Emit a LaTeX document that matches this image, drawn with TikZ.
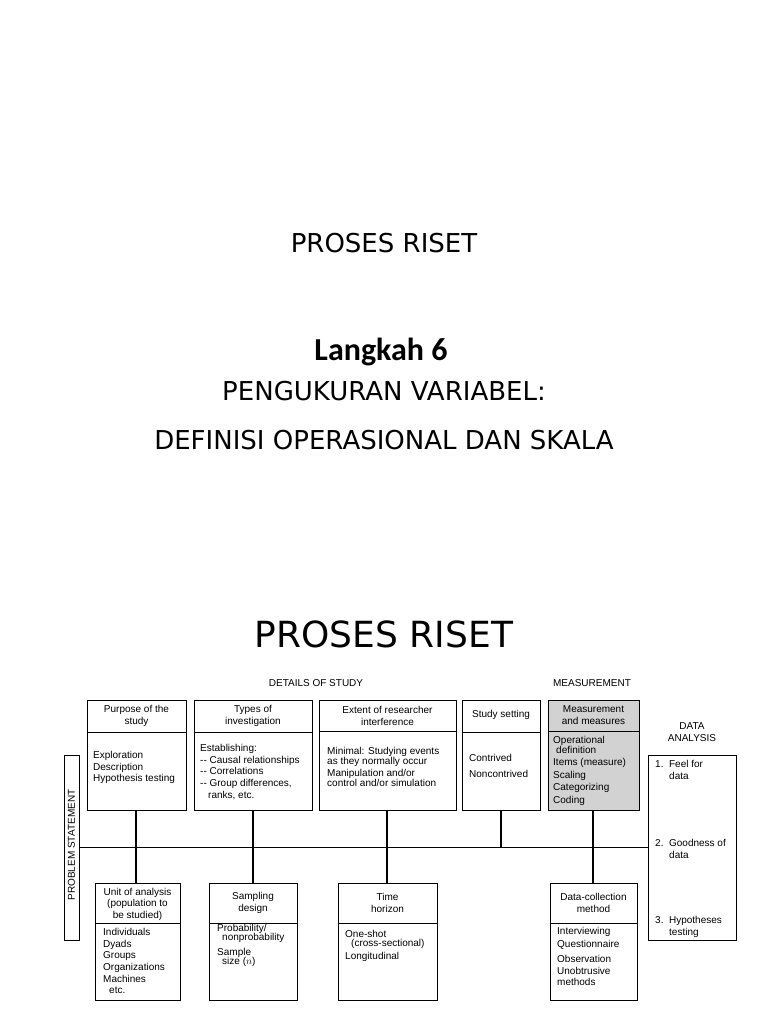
\documentclass[tikz,border=0pt]{standalone}
\usepackage{fontspec}
\setmainfont{DejaVu Sans}
\newfontfamily\diag{Liberation Sans}
\newfontfamily\carlitofont{Carlito}
\begin{document}
\begin{tikzpicture}[x=1pt,y=-1pt,
  bx/.style={draw,line width=0.8pt},
  lbl/.style={font=\diag\fontsize{10}{11.5}\selectfont,align=center,inner sep=0},
  txt/.style={font=\diag\fontsize{10}{11.7}\selectfont,align=left,anchor=north west,inner sep=0},
  one/.style={font=\diag\fontsize{10}{11}\selectfont,anchor=west,inner sep=0},
  conn/.style={line width=1.8pt},
  ttl/.style={inner sep=0}]
\useasboundingbox (0,0) rectangle (768,1024);
\node[ttl,font=\fontsize{26}{30}\selectfont] (t1) at (384,243) {PROSES RISET};
\node[ttl,font=\carlitofont\bfseries\fontsize{32}{36}\selectfont] (t2) at (381,352) {Langkah 6};
\node[ttl,font=\fontsize{26}{30}\selectfont] (t3) at (384,391) {PENGUKURAN VARIABEL:};
\node[ttl,font=\fontsize{26}{30}\selectfont] (t4) at (384,440) {DEFINISI OPERASIONAL DAN SKALA};
\node[ttl,font=\fontsize{36}{42}\selectfont] (t5) at (384,634) {PROSES RISET};
\node[lbl] (ds) at (316,683) {DETAILS OF STUDY};
\node[lbl] (ms) at (592,683) {MEASUREMENT};
\node[lbl,font=\diag\fontsize{10}{12.5}\selectfont] (da) at (692,732) {DATA\\ANALYSIS};
% main line
\coordinate (L) at (79,847);
\coordinate (R) at (648,847);
\draw[line width=1pt] (L) -- (R);
% top boxes
\fill[gray!35] (548,700) rectangle (639,810);
\foreach \a/\b/\d in {87/186/732,194/312/732,319/456/731,462/540/732,548/639/731}{
  \draw[bx] (\a,700) rectangle (\b,810); \draw[bx] (\a,\d) -- (\b,\d);}
\foreach \a/\b in {95/180,209/297,338/437,550/637}{
  \draw[bx] (\a,883) rectangle (\b,1000); \draw[bx] (\a,923) -- (\b,923);}
\draw[bx] (64,755) rectangle (79,940);
\draw[bx] (648,755) rectangle (736,940);
\node[lbl,rotate=90,font=\diag\fontsize{10}{11}\selectfont] (ps) at (71.5,845) {PROBLEM STATEMENT};
% connectors
\foreach \x in {136,253,387,593}{\draw[conn] (\x,810) -- (\x,883);}
\draw[conn] (501,810) -- (501,847);
% headers
\node[lbl] (h1) at (136.5,716) {Purpose of the\\study};
\node[lbl] (h2) at (253,716) {Types of\\investigation};
\node[lbl] (h3) at (387.5,716) {Extent of researcher\\interference};
\node[lbl] (h4) at (501,715) {Study setting};
\node[lbl] (h5) at (593.5,715) {Measurement\\and measures};
\node[lbl] (h6) at (137.5,904) {Unit of analysis\\(population to\\be studied)};
\node[lbl] (h7) at (253,903) {Sampling\\design};
\node[lbl] (h8) at (387.5,903) {Time\\horizon};
\node[lbl] (h9) at (593.5,903) {Data-collection\\method};
% bodies
\node[txt] (b1) at (93,751) {Exploration\\Description\\Hypothesis testing};
\node[txt] (b2) at (200,744) {Establishing:\\-- Causal relationships\\-- Correlations\\-- Group differences,\\\hspace*{8pt}ranks, etc.};
\node[txt,font=\diag\fontsize{10}{10}\selectfont] (b3) at (327,747) {Minimal: Studying events\\as they normally occur\\[2.5pt]Manipulation and/or\\control and/or simulation};
\node[txt,font=\diag\fontsize{10}{16}\selectfont] (b4) at (469,754) {Contrived\\Noncontrived};
\node[one] (m1) at (553,741) {Operational};
\node[one] (m2) at (556,750) {definition};
\node[one] (m3) at (553,763) {Items (measure)};
\node[one] (m4) at (553,776) {Scaling};
\node[one] (m5) at (553,788) {Categorizing};
\node[one] (m6) at (553,801) {Coding};
\node[txt] (b6) at (103,928) {Individuals\\Dyads\\Groups\\Organizations\\Machines\\\hspace*{6pt}etc.};
\node[txt,font=\diag\fontsize{10}{9.5}\selectfont] (b7) at (217,924) {Probability/\\\hspace*{5pt}nonprobability\\[5pt]Sample\\\hspace*{5pt}size ($n$)};
\node[txt,font=\diag\fontsize{10}{9.5}\selectfont] (b8) at (345,930) {One-shot\\\hspace*{6pt}(cross-sectional)\\[3.5pt]Longitudinal};
\node[one] (c1) at (557,932) {Interviewing};
\node[one] (c2) at (557,945) {Questionnaire};
\node[one] (c3) at (557,959) {Observation};
\node[one] (c4) at (557,971) {Unobtrusive};
\node[one] (c5) at (557,982) {methods};
\node[txt] (d1) at (655,760) {1.\ \ Feel for\\\hspace*{14pt}data};
\node[txt] (d2) at (655,839) {2.\ \ Goodness of\\\hspace*{14pt}data};
\node[txt] (d3) at (655,916) {3.\ \ Hypotheses\\\hspace*{14pt}testing};
\end{tikzpicture}
\end{document}
